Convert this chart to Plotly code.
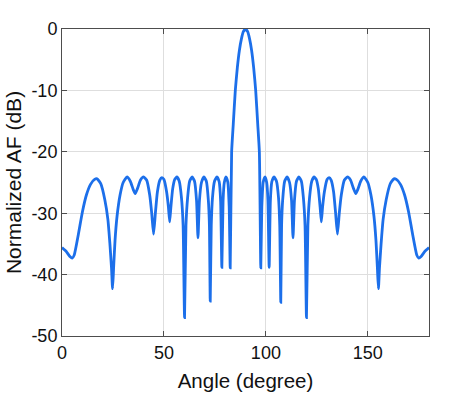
import plotly.graph_objects as go

angle_deg = [
    0, 2, 4, 5, 6, 8, 10, 12, 14, 16, 17.2, 19, 21, 22.5, 23.5, 24.3, 24.8, 25.3, 26, 27, 28.5, 30,
    31.9, 33.5, 35, 35.9, 37, 38.5, 40, 41.5, 43, 44, 44.9, 45.8, 46.8, 48, 49, 50, 51.3, 52.2,
    52.8, 53.4, 54.3, 55.3, 56.4, 57.5, 58.6, 59.4, 60.1, 60.8, 61.6, 62.6, 63.8, 65, 66, 66.7,
    67.4, 68.4, 69.6, 70.8, 71.8, 72.3, 72.7, 73.2, 73.8, 74.8, 76, 77.1, 77.8, 78.4, 79, 79.6,
    80.4, 81.3, 82, 82.5, 83.2, 84, 85, 86, 87, 88, 89, 90,
    91, 92, 93, 94, 95, 96, 96.8, 97.5, 98, 98.7, 99.6, 100.4, 101, 101.6, 102.2, 102.9, 104,
    105.2, 106.2, 106.8, 107.3, 107.7, 108.2, 109.2, 110.4, 111.6, 112.6, 113.3, 114, 115, 116.2,
    117.4, 118.4, 119.2, 119.9, 120.6, 121.4, 122.5, 123.6, 124.7, 125.7, 126.6, 127.2, 127.8,
    128.7, 130, 131, 132, 133.2, 134.2, 135.1, 136, 137, 138.5, 140, 141.5, 143, 144.1, 145,
    146.5, 148.1, 150, 151.5, 153, 154, 154.7, 155.2, 155.7, 156.5, 157.5, 159, 161, 162.8, 164,
    166, 168, 170, 172, 174, 175, 176, 178, 180,
]

af_db = [
    -35.6, -36.2, -37.1, -37.3, -36.8, -33.5, -29.8, -27.0, -25.3, -24.5, -24.4, -25.2, -27.8,
    -31.0, -35.0, -39.0, -42.3, -39.0, -34.5, -30.5, -27.0, -25.0,
    -24.1, -24.8, -26.2, -26.8, -26.0, -24.6, -24.1, -24.6, -27.0, -30.0, -33.4, -30.0, -26.5,
    -24.6, -24.2, -24.5, -26.5, -29.0,
    -31.4, -29.0, -26.0, -24.5, -24.1, -24.8, -27.5, -32.0, -47.0, -32.0, -27.5, -24.8, -24.1,
    -24.8, -28.0, -34.0,
    -28.0, -25.0, -24.1, -24.8, -28.0, -32.0, -44.3, -32.0, -27.5, -24.8, -24.1, -24.9, -28.0,
    -38.8, -28.0, -25.0,
    -24.1, -24.9, -29.0, -38.9, -20.0, -15.5, -10.0, -6.3, -3.5, -1.6, -0.4, 0.0,
    -0.4, -1.6, -3.5, -6.3, -10.0, -15.5, -20.0, -38.9, -29.0, -24.9, -24.1, -25.0, -28.0,
    -38.8, -28.0, -24.9, -24.1,
    -24.8, -27.5, -32.0, -44.5, -32.0, -28.0, -24.8, -24.1, -25.0, -28.0, -34.0, -28.0, -24.8,
    -24.1,
    -24.8, -27.5, -32.0, -47.0, -32.0, -27.5, -24.8, -24.1, -24.5, -26.0, -29.0, -31.4, -29.0,
    -26.5, -24.5, -24.2, -24.6, -26.5, -30.0, -33.4, -30.0, -27.0, -24.6, -24.1, -24.6, -26.0,
    -26.8, -26.2,
    -24.8, -24.1, -25.0, -27.0, -30.5, -34.5, -39.0, -42.3, -39.0, -35.0, -31.0, -27.8, -25.2,
    -24.4, -24.5,
    -25.3, -27.0, -29.8, -33.5, -36.8, -37.3, -37.1, -36.2, -35.6,
]

x_ticks = [0, 50, 100, 150]
y_ticks = [0, -10, -20, -30, -40, -50]
y_tick_labels = ["0", "-10", "-20", "-30", "-40", "-50"]

fig = go.Figure()
fig.add_trace(go.Scatter(
    x=angle_deg, y=af_db, mode="lines",
    line=dict(color="#1c6fea", width=2.8, shape="spline", smoothing=0.5),
    showlegend=False, hoverinfo="skip",
))

axis_common = dict(
    showline=True, linecolor="#4d4d4d", linewidth=1, mirror="ticks",
    ticks="inside", ticklen=5, tickcolor="#4d4d4d", tickwidth=1,
    showgrid=True, gridcolor="#dedede", gridwidth=1, zeroline=False,
    tickfont=dict(family="Liberation Sans, Arial, sans-serif", size=18, color="#111111"),
)

fig.update_layout(
    width=474, height=402,
    margin=dict(l=62, r=45, t=29, b=66),
    paper_bgcolor="white", plot_bgcolor="white",
    font=dict(family="Liberation Sans, Arial, sans-serif", color="#111111"),
    xaxis=dict(
        range=[0, 180], tickvals=x_ticks, ticktext=[str(v) for v in x_ticks],
        title=dict(text="Angle (degree)", font=dict(size=20.5), standoff=12),
        **axis_common,
    ),
    yaxis=dict(
        range=[-50, 0], tickvals=y_ticks, ticktext=y_tick_labels,
        title=dict(text="Normalized AF (dB)", font=dict(size=21), standoff=4),
        **axis_common,
    ),
)

fig.write_html("out.html")
